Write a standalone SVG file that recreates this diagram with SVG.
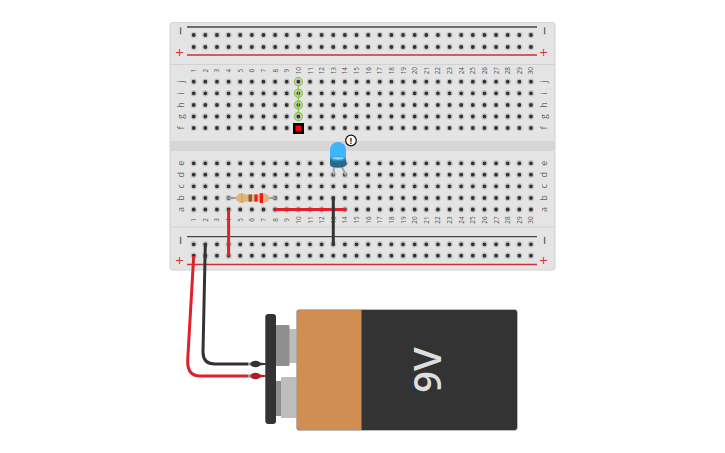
<svg xmlns="http://www.w3.org/2000/svg" xmlns:xlink="http://www.w3.org/1999/xlink" width="725" height="453" viewBox="0 0 725 453">
<style>
text{font-family:"Open Sans","Liberation Sans",sans-serif}
.num{font-size:6.4px;fill:#555;text-anchor:middle;dominant-baseline:central}
.let{font-size:9px;fill:#666;text-anchor:middle;dominant-baseline:central}
.sign{font-size:15px;text-anchor:middle;dominant-baseline:central}
.halo{fill:none;stroke:#c6c6c6;stroke-width:6.4;stroke-linecap:round;stroke-dasharray:0 11.63}
.dot{fill:none;stroke:#333;stroke-width:3.8;stroke-linecap:round;stroke-dasharray:0 11.63}
.wire{fill:none;stroke-width:3;stroke-linecap:butt}
.red{stroke:#e0202a}
.blk{stroke:#333}
.sel{fill:none;stroke:#8fc24a;stroke-width:1.3}
.lead{stroke:#9a9a9a;stroke-width:2;fill:none}
</style>
<defs>
<filter id="soft" x="-5%" y="-5%" width="110%" height="110%"><feGaussianBlur stdDeviation="0.6"/></filter>
<path id="rows" d="M193.7 35H531.2M193.7 47H531.2M193.7 81.7H531.2M193.7 93.3H531.2M193.7 105H531.2M193.7 116.5H531.2M193.7 128H531.2M193.7 163.3H531.2M193.7 174.7H531.2M193.7 186.3H531.2M193.7 198H531.2M193.7 209.5H531.2M193.7 244.3H531.2M193.7 255.7H531.2"/>
<g id="nums" class="num">
<text transform="translate(193.7 0) rotate(-90)">1</text><text transform="translate(205.33 0) rotate(-90)">2</text><text transform="translate(216.96 0) rotate(-90)">3</text><text transform="translate(228.59 0) rotate(-90)">4</text><text transform="translate(240.22 0) rotate(-90)">5</text><text transform="translate(251.85 0) rotate(-90)">6</text><text transform="translate(263.48 0) rotate(-90)">7</text><text transform="translate(275.11 0) rotate(-90)">8</text><text transform="translate(286.74 0) rotate(-90)">9</text><text transform="translate(298.37 0) rotate(-90)">10</text><text transform="translate(310 0) rotate(-90)">11</text><text transform="translate(321.63 0) rotate(-90)">12</text><text transform="translate(333.26 0) rotate(-90)">13</text><text transform="translate(344.89 0) rotate(-90)">14</text><text transform="translate(356.52 0) rotate(-90)">15</text><text transform="translate(368.15 0) rotate(-90)">16</text><text transform="translate(379.78 0) rotate(-90)">17</text><text transform="translate(391.41 0) rotate(-90)">18</text><text transform="translate(403.04 0) rotate(-90)">19</text><text transform="translate(414.67 0) rotate(-90)">20</text><text transform="translate(426.3 0) rotate(-90)">21</text><text transform="translate(437.93 0) rotate(-90)">22</text><text transform="translate(449.56 0) rotate(-90)">23</text><text transform="translate(461.19 0) rotate(-90)">24</text><text transform="translate(472.82 0) rotate(-90)">25</text><text transform="translate(484.45 0) rotate(-90)">26</text><text transform="translate(496.08 0) rotate(-90)">27</text><text transform="translate(507.71 0) rotate(-90)">28</text><text transform="translate(519.34 0) rotate(-90)">29</text><text transform="translate(530.97 0) rotate(-90)">30</text>
</g>
<g id="letters" class="let">
<text transform="translate(0 81.7) rotate(-90)">j</text><text transform="translate(0 93.3) rotate(-90)">i</text><text transform="translate(0 105) rotate(-90)">h</text><text transform="translate(0 116.5) rotate(-90)">g</text><text transform="translate(0 128) rotate(-90)">f</text><text transform="translate(0 163.3) rotate(-90)">e</text><text transform="translate(0 174.7) rotate(-90)">d</text><text transform="translate(0 186.3) rotate(-90)">c</text><text transform="translate(0 198) rotate(-90)">b</text><text transform="translate(0 209.5) rotate(-90)">a</text>
</g>
</defs>
<rect width="725" height="453" fill="#fff"/>
<g id="breadboard">
<rect x="170" y="22.5" width="385" height="247.5" rx="2.5" fill="#e4e4e4" stroke="#d2d2d2" stroke-width="1"/>
<rect x="170.5" y="141" width="384" height="10" fill="#d6d6d6"/>
<path d="M170.5 64.5H554.5M170.5 227H554.5" stroke="#d2d2d2" stroke-width="1" fill="none"/>
<path d="M187 27H537M187 236.7H537" stroke="#444" stroke-width="1.3" fill="none"/>
<path d="M187 55H537M187 264.5H537" stroke="#c8323a" stroke-width="1.3" fill="none"/>
<g filter="url(#soft)">
<use xlink:href="#rows" href="#rows" class="halo"/>
<use xlink:href="#rows" href="#rows" class="dot"/>
</g>
<use xlink:href="#nums" href="#nums" y="70.7"/>
<use xlink:href="#nums" href="#nums" y="220"/>
<use xlink:href="#letters" href="#letters" x="180.5"/>
<use xlink:href="#letters" href="#letters" x="543.5"/>
<g class="sign" fill="#444">
<text transform="translate(179.5 31) rotate(-90)">−</text><text transform="translate(543.5 31) rotate(-90)">−</text><text transform="translate(179.5 240.5) rotate(-90)">−</text><text transform="translate(543.5 240.5) rotate(-90)">−</text>
</g>
<g class="sign" fill="#d0343c">
<text x="179.5" y="51.5">+</text><text x="543.5" y="51.5">+</text><text x="179.5" y="260">+</text><text x="543.5" y="260">+</text>
</g>
</g>
<g id="selection">
<path d="M298.4 85.7V112.5" stroke="#8fc24a" stroke-width="1.3" fill="none"/>
<circle class="sel" cx="298.4" cy="81.7" r="4"/><circle class="sel" cx="298.4" cy="93.3" r="4"/><circle class="sel" cx="298.4" cy="105" r="4"/><circle class="sel" cx="298.4" cy="116.5" r="4"/>
<rect x="293" y="123" width="11" height="11" fill="#000"/>
<rect x="295.5" y="125.5" width="6" height="6" fill="#f00"/>
</g>
<g id="connectors">
<path class="wire red" d="M228.6 209.5V256.5"/>
<path class="wire red" d="M274.5 209.5H346"/>
<path class="wire blk" d="M333.3 197.5V245"/>
<path class="wire red" d="M193.7 256L187.7 360Q187 376 200 376H248"/>
<path class="wire blk" d="M205.3 244L203 352Q203 364 215 364H248"/>
</g>
<g id="resistor">
<circle cx="228.6" cy="198" r="1.8" fill="#888"/><circle cx="275" cy="198" r="1.8" fill="#888"/>
<path class="lead" d="M228.6 198H275"/>
<path d="M235 198Q238 193 242 193.2L246 194.5H258L262 193.2Q267 193 270.5 198Q267 203.2 262 203L258 201.6H246L242 203Q238 203 235 198Z" fill="#dcb67e"/>
<rect x="241" y="193.2" width="1.6" height="9.8" fill="#c9b53c"/>
<rect x="248.5" y="194.5" width="3.4" height="7.1" fill="#8b5a2b"/>
<rect x="254.5" y="194.5" width="3" height="7.1" fill="#f01818"/>
<rect x="259.8" y="193.2" width="3.2" height="9.8" fill="#f01818"/>
</g>
<g id="led">
<path d="M334 166L333.6 175.5M341.5 166L346 175.5" stroke="#a8a8a8" stroke-width="2" fill="none"/>
<path d="M330 158V150A8 8 0 0 1 346 150V158Z" fill="#3fb5fb"/>
<rect x="330" y="158" width="16" height="7" rx="1" fill="#28698c"/>
<ellipse cx="338" cy="165" rx="8" ry="2.7" fill="#28698c"/>
<ellipse cx="338" cy="159" rx="8" ry="2.4" fill="#2f8cbd"/>
<ellipse cx="338" cy="158.3" rx="6" ry="1.4" fill="#8fd6ff"/>
</g>
<g id="info">
<circle cx="351" cy="140.5" r="5.3" fill="#fff" stroke="#111" stroke-width="1.2"/>
<text x="351" y="140.7" font-size="8" font-weight="700" fill="#111" text-anchor="middle" dominant-baseline="central">!</text>
</g>
<g id="battery">
<path d="M248 364H251M248 376H251" stroke="#999" stroke-width="3"/>
<ellipse cx="255.5" cy="364" rx="5.2" ry="3.2" fill="#333"/>
<ellipse cx="255.5" cy="376" rx="5.2" ry="3.2" fill="#b01c20"/>
<path d="M259 362.5L266 363.2V364.8L259 365.5Z" fill="#333"/>
<path d="M259 374.5L266 375.2V376.8L259 377.5Z" fill="#b01c20"/>
<rect x="289" y="329" width="8" height="34" fill="#bdbdbd"/>
<rect x="276" y="325" width="13.5" height="41" rx="1" fill="#8f8f8f"/>
<rect x="281" y="377" width="16" height="41" rx="1" fill="#bdbdbd"/>
<rect x="276" y="381" width="5" height="35" fill="#8f8f8f"/>
<rect x="265.3" y="314" width="10.7" height="110" rx="3" fill="#333"/>
<rect x="296.5" y="309.5" width="221" height="121" rx="3" fill="#333" stroke="#d0d0d0" stroke-width="0.6"/>
<path d="M361.5 309.9H299.5A3 3 0 0 0 296.9 313V427A3 3 0 0 0 299.5 430.1H361.5Z" fill="#d08e52"/>
<text transform="translate(426 370) rotate(-90)" font-size="38" font-weight="600" fill="#dedede" text-anchor="middle" dominant-baseline="central">9V</text>
</g>
</svg>
